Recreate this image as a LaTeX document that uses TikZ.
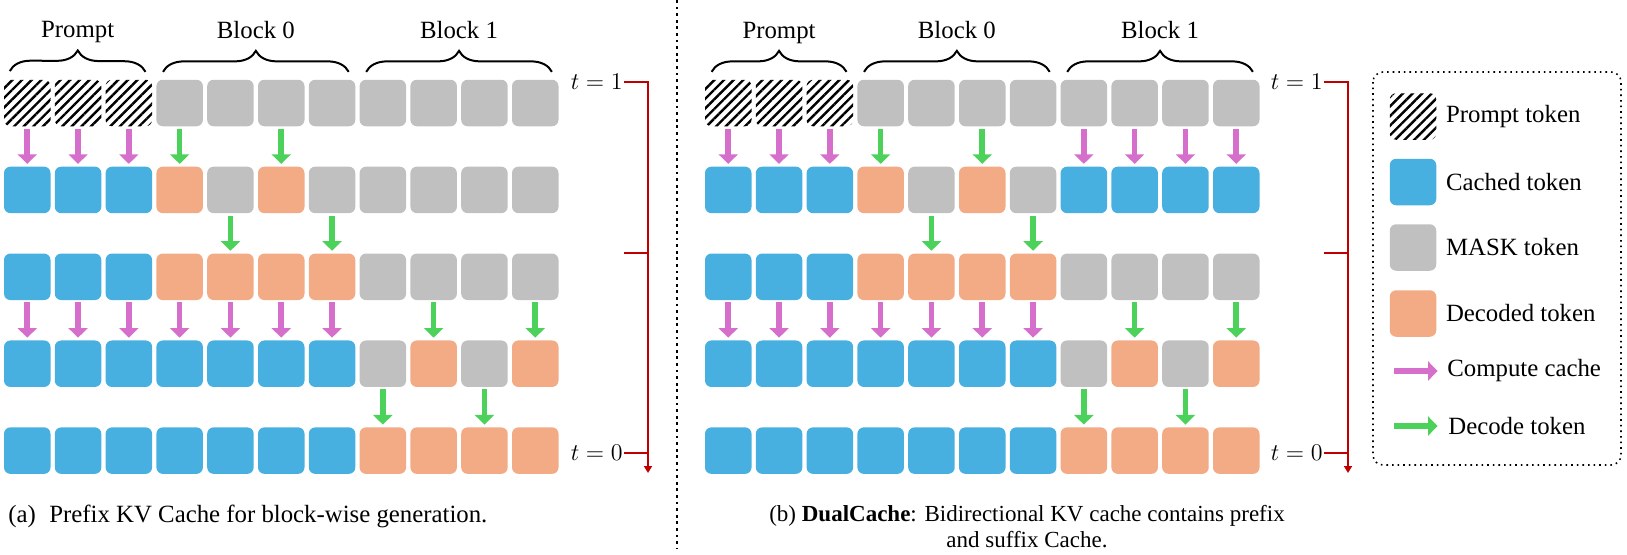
\documentclass[tikz,border=0pt]{standalone}
\usepackage{fontspec}
\setmainfont{Liberation Serif}
\usepackage{tikz}
\usetikzlibrary{arrows.meta,%
                positioning,%
                patterns.meta,%
                decorations.pathreplacing}

\definecolor{CacheBlue}{HTML}{48B0E0}
\definecolor{MaskGray}{HTML}{C0C0C0}
\definecolor{DecOrange}{HTML}{F2AB85}
\definecolor{CacheMagenta}{HTML}{D66FCB}
\definecolor{DecGreen}{HTML}{4CD25A}
\definecolor{TimeRed}{HTML}{C00000}

\newcommand{\TokenRows}[3]{%
  \foreach \row [count=\ri] in {#3} {%
    \foreach \kind [count=\ci] in \row {%
      \node[TokStyle, \kind] (#1-\ri-\ci)
        at ({#2+27.25+(\ci-1)*50.8}, {103+(\ri-1)*86.9}) {};
    }
  }%
}

\begin{document}
\begin{tikzpicture}[x=0.5pt, y=-0.5pt]
  \tikzstyle{every node} = [font = \fontsize{12.4}{12.6}\selectfont,
                            inner sep = 1pt]
  \tikzstyle{TokStyle} = [rectangle, inner sep = 0pt,
                          minimum width = 23.25pt,
                          minimum height = 23.25pt,
                          rounded corners = 3.2pt]
  \tikzstyle{tP} = [pattern = {Lines[angle=45, distance=3.4pt, line width=1.2pt]},
                    pattern color = black]
  \tikzstyle{tC} = [fill = CacheBlue]
  \tikzstyle{tM} = [fill = MaskGray]
  \tikzstyle{tD} = [fill = DecOrange]
  \tikzstyle{ArrowStyle} = [line width = 2.8pt, shorten <=1pt, shorten >=1.2pt,
                            -{Triangle[length=4.8pt, width=9.5pt]}]
  \tikzstyle{CacheArrow} = [ArrowStyle, color = CacheMagenta]
  \tikzstyle{DecodeArrow} = [ArrowStyle, color = DecGreen]
  \tikzstyle{BraceStyle} = [decorate, line width = 1pt,
                            decoration = {brace, amplitude = 10.5pt}]
  \tikzstyle{BraceLabel} = [anchor = base, yshift = 16.75pt]
  \tikzstyle{TimeLine} = [color = TimeRed, line width = 0.9pt]
  \tikzstyle{TimeLabel} = [anchor = east, inner sep = 0.5pt]
  \tikzstyle{LegendText} = [anchor = west]
  \tikzstyle{LegendBox} = [dotted, line width = 0.8pt, rounded corners = 5pt]
  \tikzstyle{SepLine} = [line width = 1.4pt, dash pattern = on 1.4pt off 1.9pt]
  \tikzstyle{CaptionStyle} = [inner sep = 0pt]

  \useasboundingbox (0,0) rectangle (1627,554);

  \TokenRows{a}{0}{{tP,tP,tP,tM,tM,tM,tM,tM,tM,tM,tM},
                   {tC,tC,tC,tD,tM,tD,tM,tM,tM,tM,tM},
                   {tC,tC,tC,tD,tD,tD,tD,tM,tM,tM,tM},
                   {tC,tC,tC,tC,tC,tC,tC,tM,tD,tM,tD},
                   {tC,tC,tC,tC,tC,tC,tC,tD,tD,tD,tD}}
  \TokenRows{b}{701}{{tP,tP,tP,tM,tM,tM,tM,tM,tM,tM,tM},
                     {tC,tC,tC,tD,tM,tD,tM,tC,tC,tC,tC},
                     {tC,tC,tC,tD,tD,tD,tD,tM,tM,tM,tM},
                     {tC,tC,tC,tC,tC,tC,tC,tM,tD,tM,tD},
                     {tC,tC,tC,tC,tC,tC,tC,tD,tD,tD,tD}}

  \foreach \p/\dx in {a/0, b/700} {
    \foreach \col in {1,2,3} \draw[CacheArrow] (\p-1-\col) -- (\p-2-\col);
    \foreach \col in {4,6} \draw[DecodeArrow] (\p-1-\col) -- (\p-2-\col);
    \foreach \col in {5,7} \draw[DecodeArrow] (\p-2-\col) -- (\p-3-\col);
    \foreach \col in {1,...,7} \draw[CacheArrow] (\p-3-\col) -- (\p-4-\col);
    \foreach \col in {9,11} \draw[DecodeArrow] (\p-3-\col) -- (\p-4-\col);
    \foreach \col in {8,10} \draw[DecodeArrow] (\p-4-\col) -- (\p-5-\col);

    \draw[BraceStyle] ([xshift=3.5pt,yshift=3.75pt]\p-1-1.north west)
      -- node[BraceLabel] {Prompt} ([xshift=-3.5pt,yshift=3.75pt]\p-1-3.north east);
    \draw[BraceStyle] ([xshift=3.5pt,yshift=3.75pt]\p-1-4.north west)
      -- node[BraceLabel] {Block 0} ([xshift=-3.5pt,yshift=3.75pt]\p-1-7.north east);
    \draw[BraceStyle] ([xshift=3.5pt,yshift=3.75pt]\p-1-8.north west)
      -- node[BraceLabel] {Block 1} ([xshift=-3.5pt,yshift=3.75pt]\p-1-11.north east);

    \coordinate (\p-t1) at ({\dx+624}, 82);
    \coordinate (\p-tm) at ({\dx+624}, 253);
    \coordinate (\p-t0) at ({\dx+624}, 453);
    \coordinate (\p-tend) at ({\dx+648}, 473);
    \node[TimeLabel] (\p-t1lbl) at (\p-t1) {$t = 1$};
    \node[TimeLabel] (\p-t0lbl) at (\p-t0) {$t = 0$};
    \draw[TimeLine, -{Triangle[length=3.5pt, width=4pt]}] (\p-t1) -| (\p-tend);
    \draw[TimeLine] (\p-tm) -- ++(24,0);
    \draw[TimeLine] (\p-t0) -- ++(24,0);
  }
  \foreach \col in {8,...,11} \draw[CacheArrow] (b-1-\col) -- (b-2-\col);

  \draw[SepLine] (677,0) -- (677,548);

  \draw[LegendBox] (1373,72) rectangle (1621,465);
  \node[TokStyle, tP] (lg-1) at (1413,116.5) {};
  \node[TokStyle, tC] (lg-2) at (1413,182) {};
  \node[TokStyle, tM] (lg-3) at (1413,247.5) {};
  \node[TokStyle, tD] (lg-4) at (1413,313.5) {};
  \node[LegendText, right=3.5pt of lg-1] (lgt-1) {Prompt token};
  \node[LegendText, right=3.5pt of lg-2] (lgt-2) {Cached token};
  \node[LegendText, right=3.5pt of lg-3] (lgt-3) {MASK token};
  \node[LegendText, right=3.5pt of lg-4] (lgt-4) {Decoded token};
  \coordinate (lg-5s) at (1392,371);
  \coordinate (lg-5e) at (1440,371);
  \coordinate (lg-6s) at (1392,426);
  \coordinate (lg-6e) at (1440,426);
  \draw[CacheArrow] (lg-5s) -- (lg-5e);
  \draw[DecodeArrow] (lg-6s) -- (lg-6e);
  \node[LegendText, right=2.5pt of lg-5e] (lgt-5) {Compute cache};
  \node[LegendText, right=3pt of lg-6e] (lgt-6) {Decode token};

  \node[CaptionStyle, anchor=base west] (cap-a) at (8,522)
    {(a)\hspace{6.75pt}Prefix KV Cache for block-wise generation.};
  \node[CaptionStyle, align=center, font=\fontsize{11.5}{13}\selectfont]
    (cap-b) at (1027,527)
    {(b) \textbf{DualCache}: Bidirectional KV cache contains prefix\\and suffix Cache.};
\end{tikzpicture}
\end{document}
